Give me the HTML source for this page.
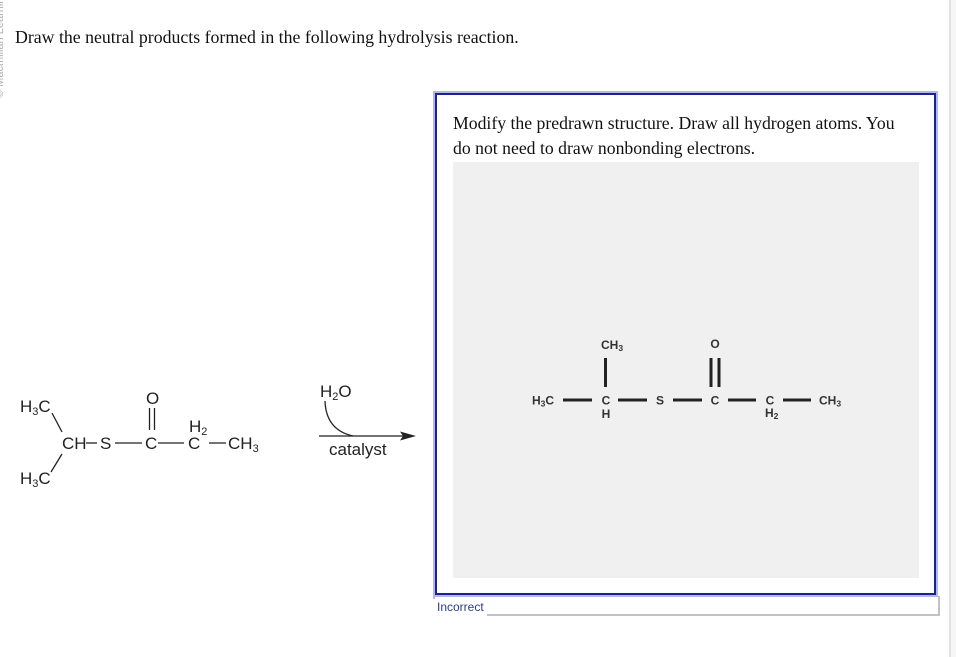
<!DOCTYPE html>
<html>
<head>
<meta charset="utf-8">
<style>
  html, body { margin:0; padding:0; }
  body { width:956px; height:657px; background:#fff; position:relative; overflow:hidden; }
  .serif { font-family:"Liberation Serif", serif; color:#111; position:absolute; white-space:nowrap; }
  #title { left:15px; top:26px; font-size:17.8px; line-height:22px; }
  #instr { left:453px; top:111px; font-size:17.7px; line-height:24.5px; }
  #outer { position:absolute; left:433px; top:91px; width:501px; height:502px; border:2px solid #b3b8e6; }
  #inner { position:absolute; left:435px; top:93px; width:497px; height:498px; border:2.5px solid #1b2392; box-sizing:content-box; }
  #gray { position:absolute; left:453px; top:162px; width:466px; height:416px; background:#f0f0f0; }
  #rightline { position:absolute; left:949px; top:0; width:2px; height:657px; background:#e2e2e2; }
  #rightfill { position:absolute; left:951px; top:0; width:5px; height:657px; background:#f6f6f6; }
  #wm { position:absolute; left:-5px; top:98px; transform:rotate(-90deg); transform-origin:left top;
        font-family:"Liberation Sans", sans-serif; font-size:11px; line-height:11px; color:#b0b0b0; white-space:nowrap; }
  #incorrect { position:absolute; left:437px; top:600px; font-family:"Liberation Sans", sans-serif; font-size:12px; line-height:14px; color:#2b3a8f; }
  svg { position:absolute; left:0; top:0; }
</style>
</head>
<body>
<div id="rightfill"></div>
<div id="rightline"></div>
<div id="wm">© Macmillan Learning</div>
<div id="title" class="serif">Draw the neutral products formed in the following hydrolysis reaction.</div>

<div id="outer"></div>
<div id="inner"></div>
<div id="gray"></div>
<div id="instr" class="serif">Modify the predrawn structure. Draw all hydrogen atoms. You<br>do not need to draw nonbonding electrons.</div>
<div id="incorrect">Incorrect</div>

<svg width="956" height="657" viewBox="0 0 956 657">
  <!-- bottom feedback bar lines -->
  <line x1="487" y1="615" x2="940" y2="615" stroke="#c2c2c2" stroke-width="2"/>
  <line x1="939" y1="596" x2="939" y2="616" stroke="#c2c2c2" stroke-width="2"/>
  <line x1="434" y1="596" x2="434" y2="599" stroke="#b3b8e6" stroke-width="2"/>

  <!-- Left reactant -->
  <g font-family="Liberation Sans, Arial, sans-serif" font-size="17" fill="#222">
    <text x="20" y="412">H<tspan font-size="11" dy="3">3</tspan><tspan dy="-3">C</tspan></text>
    <text x="62" y="449">CH</text>
    <text x="20" y="484">H<tspan font-size="11" dy="3">3</tspan><tspan dy="-3">C</tspan></text>
    <text x="100" y="449">S</text>
    <text x="145" y="449">C</text>
    <text x="146" y="404">O</text>
    <text x="188" y="449">C</text>
    <text x="189" y="432">H<tspan font-size="11" dy="3">2</tspan></text>
    <text x="228" y="449">CH<tspan font-size="11" dy="3">3</tspan></text>
    <text x="320" y="397">H<tspan font-size="11" dy="3">2</tspan><tspan dy="-3">O</tspan></text>
    <text x="329" y="455">catalyst</text>
  </g>
  <g stroke="#222" stroke-width="1.3" fill="none">
    <line x1="52" y1="413" x2="62" y2="432"/>
    <line x1="62" y1="454" x2="51" y2="472"/>
    <line x1="86" y1="443" x2="97" y2="443"/>
    <line x1="115" y1="443" x2="142" y2="443"/>
    <line x1="158" y1="443" x2="184" y2="443"/>
    <line x1="209" y1="443" x2="226" y2="443"/>
    <line x1="149.5" y1="408" x2="149.5" y2="430"/>
    <line x1="154.5" y1="408" x2="154.5" y2="430"/>
    <!-- reaction arrow -->
    <line x1="319" y1="436" x2="404" y2="436"/>
    <path d="M325,401 Q326,430 353,436"/>
  </g>
  <polygon points="416,436 400,431.5 403,436 400,440.5" fill="#222"/>

  <!-- Box molecule -->
  <g font-family="Liberation Sans, Arial, sans-serif" font-size="12" font-weight="bold" fill="#333">
    <text x="532" y="404.5">H<tspan font-size="8.5" dy="2">3</tspan><tspan dy="-2">C</tspan></text>
    <text x="606" y="404.5" text-anchor="middle">C</text>
    <text x="606" y="418" text-anchor="middle">H</text>
    <text x="601" y="349">CH<tspan font-size="8.5" dy="2">3</tspan></text>
    <text x="660" y="404.5" text-anchor="middle">S</text>
    <text x="715" y="404.5" text-anchor="middle">C</text>
    <text x="715" y="348" text-anchor="middle">O</text>
    <text x="770" y="404.5" text-anchor="middle">C</text>
    <text x="765" y="417">H<tspan font-size="8.5" dy="2">2</tspan></text>
    <text x="819" y="404.5">CH<tspan font-size="8.5" dy="2">3</tspan></text>
  </g>
  <g stroke="#222" stroke-width="3">
    <line x1="563" y1="400" x2="592" y2="400"/>
    <line x1="605.5" y1="358" x2="605.5" y2="387"/>
    <line x1="618" y1="400" x2="647" y2="400"/>
    <line x1="673" y1="400" x2="702" y2="400"/>
    <line x1="711" y1="358" x2="711" y2="387"/>
    <line x1="719" y1="358" x2="719" y2="387"/>
    <line x1="728" y1="400" x2="756" y2="400"/>
    <line x1="783" y1="400" x2="811" y2="400"/>
  </g>
</svg>
</body>
</html>
